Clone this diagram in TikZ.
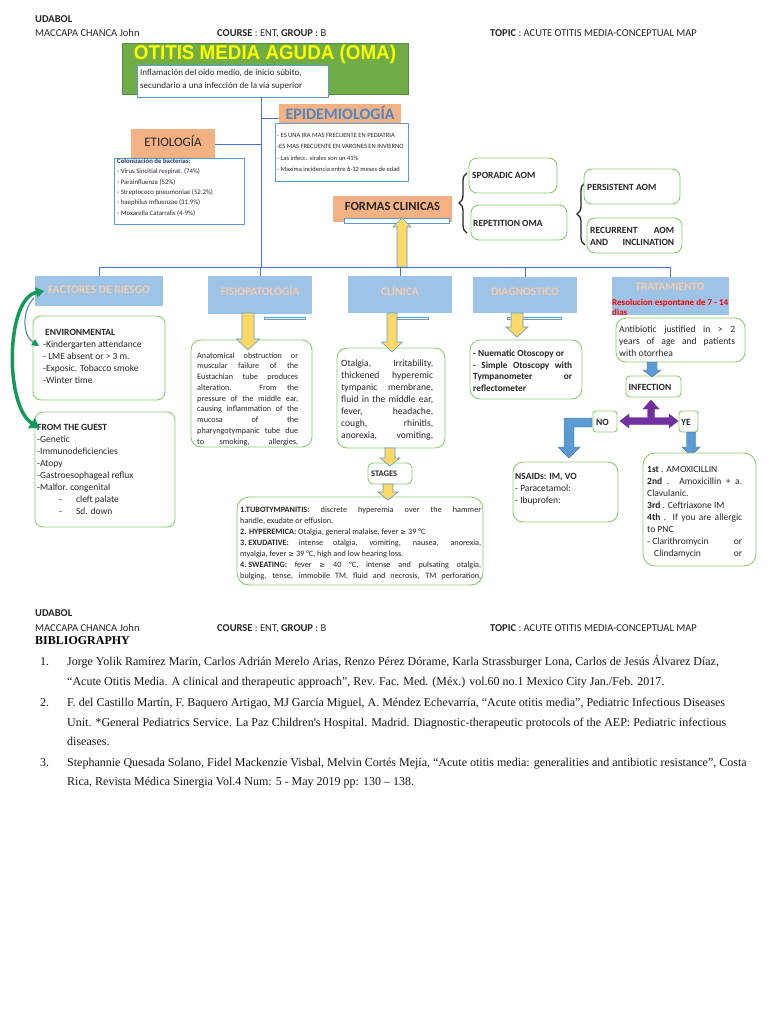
\documentclass[tikz,border=0pt]{standalone}
\usepackage{fontspec}
\setmainfont{Carlito}
\newfontfamily\arialf{Liberation Sans}
\newfontfamily\timesf{Liberation Serif}
\newfontfamily\symf{DejaVu Sans}
\usetikzlibrary{fit,arrows.meta,decorations.pathreplacing}
\definecolor{tgreen}{HTML}{70AD47}
\definecolor{tyellow}{HTML}{FFFF00}
\definecolor{lblue}{HTML}{5B9BD5}
\definecolor{dblue}{HTML}{4472C4}
\definecolor{orng}{HTML}{F4B183}
\definecolor{hblue}{HTML}{9DC3E6}
\definecolor{htext}{HTML}{F8CBAD}
\definecolor{gborder}{HTML}{8CCB6A}
\definecolor{yfill}{HTML}{FFD966}
\definecolor{purp}{HTML}{7030A0}
\definecolor{darktext}{HTML}{262626}
\definecolor{epiblue}{HTML}{4A86C8}
\definecolor{navy}{HTML}{1F3864}
\definecolor{garrow}{HTML}{139A55}
\newcommand\fs[2]{\fontsize{#1}{#2}\selectfont}
\newcommand\J[2]{\makebox[#1pt][s]{#2}}
\newcommand\gee{{\symf\fontsize{7}{8}\selectfont ≥}}
\newcommand\dArrow[7]{\filldraw[#1] ({#2-#5},#3) -- ({#2+#5},#3) -- ({#2+#5},{#4-#7}) -- ({#2+#6},{#4-#7}) -- (#2,#4) -- ({#2-#6},{#4-#7}) -- ({#2-#5},{#4-#7}) -- cycle;}
\newcommand\uArrow[7]{\filldraw[#1] ({#2-#5},#3) -- ({#2+#5},#3) -- ({#2+#5},{#4+#7}) -- ({#2+#6},{#4+#7}) -- (#2,#4) -- ({#2-#6},{#4+#7}) -- ({#2-#5},{#4+#7}) -- cycle;}
\begin{document}
\begin{tikzpicture}[x=1pt,y=-1pt,
  txt/.style={inner sep=0, anchor=base west, align=left, text=darktext},
  box/.style={draw=lblue, line width=0.7pt, fill=white, inner sep=0},
  gbox/.style={draw=gborder, line width=0.9pt, rounded corners=8pt, fill=white, inner sep=0},
  obox/.style={fill=orng, inner sep=0},
  hbox/.style={fill=hblue, inner sep=0},
  htxt/.style={inner sep=0, anchor=base, font=\fs{11.5}{13}\bfseries, text=htext},
  conn/.style={draw=dblue, line width=0.7pt},
  yarr/.style={fill=yfill, draw=lblue, line width=0.6pt},
  barr/.style={fill=lblue, draw=lblue!75!black, line width=0.4pt},
  brace/.style={decorate, decoration={brace, amplitude=8pt}, line width=1.3pt, draw=black!85},
  lbl/.style={txt, font=\fs{9.5}{11.7}\bfseries}
]
\fill[white] (0,0) rectangle (768,1024);
\useasboundingbox (0,0) rectangle (768,1024);

% ---------- header ----------
\node[txt, font=\fs{10.5}{12}\bfseries] (hA) at (35,23) {UDABOL};
\node[txt, font=\fs{10.5}{12}] (hB) at (35,36.5) {MACCAPA CHANCA John};
\node[txt, font=\fs{10.5}{12}] (hC) at (217,36.5) {\textbf{COURSE} : ENT, \textbf{GROUP} : B};
\node[txt, font=\fs{10.5}{12}] (hD) at (490,36.5) {\textbf{TOPIC} : ACUTE OTITIS MEDIA-CONCEPTUAL MAP};

% ---------- title ----------
\node[fill=tgreen, draw=tgreen!80!black, line width=0.5pt, inner sep=0, fit={(122,43)(408,94)}] (title) {};
\node[inner sep=0, anchor=base, text=tyellow, font=\arialf\fs{20}{24}\bfseries] (titletext) at (265,60) {\scalebox{0.94}[1]{OTITIS MEDIA AGUDA (OMA)}};
\node[box, fit={(137,65)(328,97)}] (desc) {};
\node[txt, font=\fs{9}{13}] (desctext) at (140,89) {Inflamación del oído medio, de inicio súbito,\\secundario a una infección de la vía superior};

\coordinate (hub) at (261,267);
\draw[conn] (desc.south -| hub) -- (hub);

% ---------- etiologia ----------
\node[obox, fit={(131,129)(215,160)}] (etio) {};
\node[inner sep=0, anchor=base, font=\fs{13}{15}, text=darktext] (etiot) at (173,146.5) {ETIOLOGÍA};
\draw[conn] (etio.east) -- (etio.east -| hub);
\node[box, fit={(114,158)(244,224)}] (etiolist) {};
\node[txt, font=\fs{6.8}{10.3}] (etiotext) at (117,215) {\textcolor{navy}{\textbf{Colonización de bacterias:}}\\- Virus Sincitial respirat. (74\%)\\- Parainfluenza (52\%)\\- Streptococo pneumoniae (52.2\%)\\- haephilus Influenzae (31.9\%)\\- Moxarella Catarralis (4-9\%)};

% ---------- epidemiologia ----------
\node[obox, fit={(279,104)(401,123)}] (epi) {};
\node[inner sep=0, anchor=base, font=\fs{16}{18}\bfseries, text=epiblue] (epit) at (340,120) {EPIDEMIOLOGÍA};
\draw[conn] ([yshift=-4.5pt]epi.west) -- ([yshift=-4.5pt]epi.west -| hub);
\node[box, fit={(275,123)(408,181)}] (epilist) {};
\node[txt, font=\fs{6.5}{11.4}] (epitext) at (277,171.7) {- ES UNA IRA MAS FRECUENTE EN PEDIATRIA\\-ES MAS FRECUENTE EN VARONES EN INVIERNO\\- Las infecc. virales son un 41\%\\- Maxima incidencia entre 6-12 meses de edad};

% ---------- formas clinicas ----------
\node[obox, fit={(333,196)(452,222)}] (formas) {};
\node[inner sep=0, anchor=base, font=\fs{12.5}{14}\bfseries, text=darktext] (formast) at (392.5,210.5) {FORMAS CLINICAS};
\node[box, fit={(344,218)(449,223)}] (formasstrip) {};
\uArrow{yarr}{402}{267}{218}{5}{9}{9}

\draw[brace] (467,233) -- (467,173);
\draw[brace] (585,245) -- (585,183);
\node[gbox, fit={(469,158)(557,193)}] (spor) {};
\node[lbl] (sport) at (472,179) {SPORADIC AOM};
\node[gbox, fit={(471,205)(567,240)}] (rep) {};
\node[lbl] (rept) at (473,226) {REPETITION OMA};
\node[gbox, fit={(584,169)(680,204)}] (pers) {};
\node[lbl] (perst) at (587,190.5) {PERSISTENT AOM};
\node[gbox, fit={(587,218)(682,253)}] (recur) {};
\node[lbl] (recurt) at (590,245.2) {\J{84}{RECURRENT AOM}\\\J{84}{AND INCLINATION}};

% ---------- bus and headers ----------
\node[hbox, fit={(35,276)(163,306)}] (fact) {};
\node[hbox, fit={(208,276)(312,314)}] (fisio) {};
\node[hbox, fit={(348,276)(452,313)}] (clin) {};
\node[hbox, fit={(473,277)(577,313)}] (diag) {};
\node[hbox, fit={(612,277)(729,315)}] (trat) {};
\draw[conn] (fact.north |- hub) -- (trat.north |- hub);
\foreach \n in {fact,fisio,clin,diag,trat} {\draw[conn] (\n.north |- hub) -- (\n.north);}
\node[htxt] (factt) at (99,293) {FACTORES DE RIESGO};
\node[htxt] (fisiot) at (260,295.5) {FISIOPATOLOGÍA};
\node[htxt] (clint) at (400,295.5) {CLÍNICA};
\node[htxt] (diagt) at (525,295.5) {DIAGNOSTICO};
\node[htxt] (tratt) at (670,290.5) {TRATAMIENTO};
\node[txt, font=\fs{9}{10.5}\bfseries, text=red] (resol) at (612,315.5) {Resolucion espontane de 7 - 14\\dias};

\node[box, fit={(264,317)(305,319)}] (fstrip) {};
\node[box, fit={(397,317)(428,319)}] (cstrip) {};
\node[box, fit={(507,317)(561,319)}] (dstrip) {};

% ---------- factores ----------
\node[gbox, fit={(33,316)(165,400)}] (env) {};
\node[txt, font=\fs{9.5}{12}] (envt) at (43,383) {\hspace{2pt}\textbf{ENVIRONMENTAL}\\-Kindergarten attendance\\ - LME absent or > 3 m.\\-Exposic. Tobacco smoke\\-Winter time};
\node[gbox, fit={(35,412)(175,527)}] (guest) {};
\node[txt, font=\fs{9.5}{12}] (guestt) at (37,514.5) {\textbf{FROM THE GUEST}\\-Genetic\\-Immunodeficiencies\\-Atopy\\-Gastroesophageal reflux\\-Malfor. congenital\\\hspace{22pt}-\hspace{14pt}cleft palate\\\hspace{22pt}-\hspace{14pt}Sd. down};
\draw[garrow, line width=3.5pt, {Triangle[length=8pt,width=10pt]}-{Triangle[length=9pt,width=12pt]}] (44,291) .. controls (6,298) and (4,405) .. (39,428);
\draw[draw=lblue!80!black, line width=1pt, -{Triangle[color=garrow, length=7pt, width=7pt]}] (34,298) .. controls (22,310) and (22,335) .. (39,346);

% ---------- fisiopatologia ----------
\node[gbox, rounded corners=10pt, fit={(191,340)(312,447)}] (fisiob) {};
\node[txt, font=\fs{8.2}{10.75}] (fisiotext) at (197,444) {\J{101}{Anatomical obstruction or}\\\J{101}{muscular failure of the}\\\J{101}{Eustachian tube produces}\\\J{101}{alteration. From the}\\\J{101}{pressure of the middle ear,}\\\J{101}{causing inflammation of the}\\\J{101}{mucosa of the}\\\J{101}{pharyngotympanic tube due}\\\J{101}{to smoking, allergies,}};
\dArrow{yarr}{248}{313}{350}{6}{11.5}{11}

% ---------- clinica ----------
\node[gbox, rounded corners=10pt, fit={(337,348)(445,448)}] (clinb) {};
\node[txt, font=\fs{9.6}{12}] (clintext) at (341,438.5) {\J{92}{Otalgia, Irritability,}\\\J{92}{thickened hyperemic}\\\J{92}{tympanic membrane,}\\\J{92}{fluid in the middle ear,}\\\J{92}{fever, headache,}\\\J{92}{cough, rhinitis,}\\\J{92}{anorexia, vomiting,}};
\dArrow{yarr}{392}{313}{352}{5}{10.5}{10}
\node[gbox, rounded corners=5pt, fit={(368,463)(412,484)}] (stages) {};
\node[txt, font=\fs{8.5}{10}\bfseries] (stagest) at (371,476.5) {STAGES};
\dArrow{yarr}{390}{448}{466}{5}{10}{8}
\node[gbox, rounded corners=12pt, fit={(237,497)(483,585)}] (stbox) {};
\node[txt, font=\fs{8.2}{11}] (sttext) at (240,578) {\J{241}{\textbf{1.TUBOTYMPANITIS:} discrete hyperemia over the hammer}\\handle, exudate or effusion.\\\textbf{2. HYPEREMICA:} Otalgia, general malaise, fever \gee{} 39 °C\\\J{241}{\mbox{\textbf{3.~EXUDATIVE:}} intense otalgia, vomiting, nausea, anorexia,}\\myalgia, fever \gee{} 39 °C, high and low hearing loss.\\\J{241}{\mbox{\textbf{4.~SWEATING:}} fever \gee{} 40 °C, intense and pulsating otalgia,}\\\J{241}{bulging, tense, immobile TM, fluid and necrosis, TM perforation,}};
\dArrow{yarr}{388}{484}{500}{5}{10}{8}

% ---------- diagnostico ----------
\node[gbox, rounded corners=10pt, fit={(470,340)(582,399)}] (diagb) {};
\node[txt, font=\fs{9.3}{11.7}\bfseries] (diagtext) at (473,391.6) {- Nuematic Otoscopy or\\\J{99}{- Simple Otoscopy with}\\\J{99}{Tympanometer or}\\reflectometer};
\dArrow{yarr}{517}{313}{337}{6}{11}{10}

% ---------- tratamiento ----------
\node[gbox, rounded corners=10pt, fit={(616,318)(745,362)}] (antib) {};
\node[txt, font=\fs{9.6}{12}] (antibt) at (619,356.3) {\J{116}{Antibiotic justified in > 2}\\\J{116}{years of age and patients}\\with otorrhea};
\node[gbox, rounded corners=4pt, fit={(626,376)(681,397)}] (infect) {};
\node[lbl] (infectt) at (628.5,390) {INFECTION};
\dArrow{barr}{652}{362}{377}{5}{9}{7}
\node[gbox, rounded corners=3pt, fit={(593,411)(617,432)}] (no) {};
\node[lbl] (not) at (596,425) {NO};
\node[gbox, rounded corners=3pt, fit={(679,411)(698,432)}] (ye) {};
\node[lbl] (yet) at (681,425) {YE};
\filldraw[fill=purp, draw=purp] (620,421) -- (629,414) -- (629,417.5) -- (647.5,417.5) -- (647.5,409) -- (643,409) -- (651,400) -- (659,409) -- (654.5,409) -- (654.5,417.5) -- (669,417.5) -- (669,414) -- (678,421) -- (669,428) -- (669,424.5) -- (629,424.5) -- (629,428) -- cycle;
\filldraw[barr] (592,418) -- (564,418) -- (564,447) -- (558,447) -- (569,458) -- (580,447) -- (574,447) -- (574,427) -- (592,427) -- cycle;
\node[gbox, rounded corners=10pt, fit={(513,462)(618,522)}] (nsaid) {};
\node[txt, font=\fs{9.5}{12}] (nsaidt) at (515,503) {\textbf{NSAIDs: IM, VO}\\- Paracetamol:\\- Ibuprofen:};
\dArrow{barr}{691}{432}{456}{4.5}{9}{9}
\node[gbox, rounded corners=12pt, fit={(643,453)(756,566)}] (treat) {};
\node[txt, font=\fs{9.5}{12}] (treatt) at (647,556.3) {\textbf{1st} . AMOXICILLIN\\\J{95}{\textbf{2nd} . Amoxicillin + a.}\\Clavulanic.\\\textbf{3rd} . Ceftriaxone IM\\\J{95}{\textbf{4th} . If you are allergic}\\to PNC\\\J{95}{\mbox{- Clarithromycin} or}\\\hspace{7pt}\J{88}{Clindamycin or}};

% ---------- bibliography page ----------
\node[txt, font=\fs{10.5}{12}\bfseries] (pA) at (35,616) {UDABOL};
\node[txt, font=\fs{10.5}{12}] (pB) at (35,631) {MACCAPA CHANCA John};
\node[txt, font=\fs{10.5}{12}] (pC) at (217,631) {\textbf{COURSE} : ENT, \textbf{GROUP} : B};
\node[txt, font=\fs{10.5}{12}] (pD) at (490,631) {\textbf{TOPIC} : ACUTE OTITIS MEDIA-CONCEPTUAL MAP};
\node[txt, font=\timesf\fs{12}{14}\bfseries, text=black] (bib) at (35,644) {BIBLIOGRAPHY};
\begin{scope}[every node/.style={txt, font=\timesf\fs{12}{14}, text=black!90}]
\node (n1) at (40,665) {1.};
\node (b1a) at (67,665) {Jorge Yolik Ramírez Marín, Carlos Adrián Merelo Arias, Renzo Pérez Dórame, Karla Strassburger Lona, Carlos de Jesús Álvarez Díaz,};
\node (b1b) at (67,685) {“Acute Otitis Media. A clinical and therapeutic approach”, Rev. Fac. Med. (Méx.) vol.60 no.1 Mexico City Jan./Feb. 2017.};
\node (n2) at (40,706) {2.};
\node (b2a) at (67,706) {F. del Castillo Martín, F. Baquero Artigao, MJ García Miguel, A. Méndez Echevarría, “Acute otitis media”, Pediatric Infectious Diseases};
\node (b2b) at (67,726) {Unit. *General Pediatrics Service. La Paz Children's Hospital. Madrid. Diagnostic-therapeutic protocols of the AEP: Pediatric infectious};
\node (b2c) at (67,745) {diseases.};
\node (n3) at (40,766) {3.};
\node (b3a) at (67,766) {Stephannie Quesada Solano, Fidel Mackenzie Visbal, Melvin Cortés Mejía, “Acute otitis media: generalities and antibiotic resistance”, Costa};
\node (b3b) at (67,785) {Rica, Revista Médica Sinergia Vol.4 Num: 5 - May 2019 pp: 130 – 138.};
\end{scope}
\end{tikzpicture}
\end{document}
